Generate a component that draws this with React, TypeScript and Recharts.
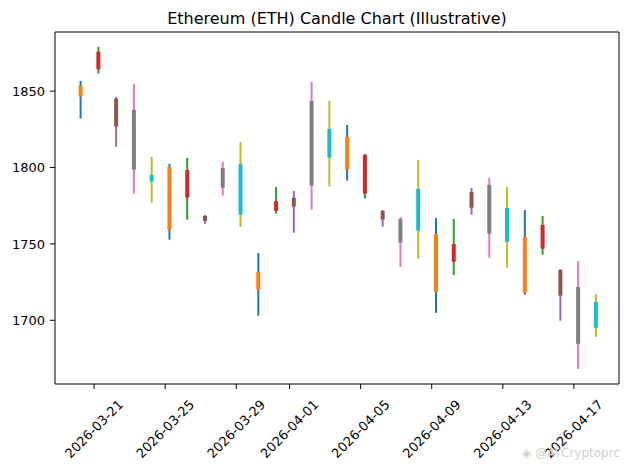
import React from 'react';
import { ComposedChart, Bar, Cell, XAxis, YAxis, ReferenceArea } from 'recharts';

// one candle per day, sampled at the same time of day (fraction of a day after midnight)
const candleTime = 0.234;
const startLabel = '2026-03-20';

const highs = [
  1856.7, 1879.0, 1846.3, 1854.8, 1807.0, 1802.4, 1806.3, 1768.9, 1803.7, 1816.8,
  1744.0, 1787.3, 1784.7, 1856.1, 1843.6, 1827.9, 1808.9, 1772.2, 1767.6, 1805.0,
  1766.9, 1766.3, 1786.6, 1793.2, 1787.3, 1772.2, 1768.3, 1733.5, 1738.8, 1717.2,
];
const lows = [
  1832.0, 1861.5, 1813.7, 1782.9, 1777.0, 1752.8, 1765.9, 1763.2, 1781.6, 1761.3,
  1703.0, 1769.8, 1757.3, 1772.4, 1787.5, 1791.4, 1779.6, 1761.3, 1735.1, 1740.3,
  1704.9, 1729.6, 1769.1, 1741.0, 1734.4, 1716.7, 1742.9, 1699.7, 1668.2, 1689.2,
];
const opens = [
  1846.5, 1875.8, 1845.0, 1837.7, 1790.8, 1800.4, 1798.4, 1768.3, 1786.8, 1769.1,
  1731.6, 1771.6, 1780.1, 1788.1, 1806.5, 1820.1, 1808.3, 1765.9, 1766.3, 1758.7,
  1756.5, 1749.9, 1773.7, 1788.6, 1773.5, 1754.5, 1762.4, 1732.9, 1721.8, 1695.1,
];
const closes = [
  1853.7, 1864.2, 1826.8, 1798.6, 1795.2, 1759.3, 1780.3, 1765.0, 1799.7, 1802.4,
  1720.0, 1778.1, 1774.4, 1843.6, 1825.3, 1798.6, 1782.9, 1771.6, 1750.8, 1786.0,
  1718.7, 1738.3, 1784.0, 1756.7, 1751.4, 1718.0, 1746.9, 1716.1, 1684.6, 1711.9,
];

// days after 2026-03-20
const tickDays = [1, 5, 9, 12, 16, 20, 24, 28];
const tickLabels = [
  '2026-03-21', '2026-03-25', '2026-03-29', '2026-04-01',
  '2026-04-05', '2026-04-09', '2026-04-13', '2026-04-17',
];
const yTicks = [1700, 1750, 1800, 1850];

const palette = [
  '#1f77b4', '#ff7f0e', '#2ca02c', '#d62728', '#9467bd',
  '#8c564b', '#e377c2', '#7f7f7f', '#bcbd22', '#17becf',
];

const xDomain: [number, number] = [-1.2, 30.54];
const yDomain: [number, number] = [1658.3, 1888.7];

const data = highs.map((h, i) => ({
  x: i + candleTime,
  wick: [lows[i], h],
  body: [Math.min(opens[i], closes[i]), Math.max(opens[i], closes[i])],
}));

const font = 'DejaVu Sans, sans-serif';

const DateTick = (props: any) => {
  const { x, y, payload } = props;
  const idx = tickDays.indexOf(payload.value);
  return (
    <g transform={`translate(${x},${y + 40})`}>
      <text
        transform="rotate(-45)"
        textAnchor="middle"
        dominantBaseline="central"
        fontSize={13}
        fontFamily={font}
        fill="#000"
      >
        {idx >= 0 ? tickLabels[idx] : startLabel}
      </text>
    </g>
  );
};

export default function App() {
  return (
    <div style={{ position: 'absolute', left: 0, top: 0, width: 630, height: 470, background: '#fff' }}>
      <ComposedChart
        width={630}
        height={470}
        data={data}
        margin={{ top: 32, right: 11, left: 8, bottom: 0 }}
      >
        <XAxis
          xAxisId="wick"
          dataKey="x"
          type="number"
          domain={xDomain}
          allowDataOverflow
          ticks={tickDays}
          interval={0}
          height={86}
          tickSize={5}
          tickMargin={0}
          axisLine={false}
          tickLine={{ stroke: '#000' }}
          tick={<DateTick />}
        />
        <XAxis
          xAxisId="body"
          dataKey="x"
          type="number"
          orientation="top"
          height={0}
          domain={xDomain}
          allowDataOverflow
          hide
        />
        <YAxis
          type="number"
          domain={yDomain}
          allowDataOverflow
          ticks={yTicks}
          width={47}
          tickSize={5}
          tickMargin={5}
          axisLine={false}
          tickLine={{ stroke: '#000' }}
          tick={{ fontSize: 13, fill: '#000', fontFamily: font }}
        />
        <Bar xAxisId="wick" dataKey="wick" barSize={2} isAnimationActive={false}>
          {data.map((_, i) => (
            <Cell key={i} fill={palette[(2 * i) % 10]} />
          ))}
        </Bar>
        <Bar xAxisId="body" dataKey="body" barSize={4} isAnimationActive={false}>
          {data.map((_, i) => (
            <Cell key={i} fill={palette[(2 * i + 1) % 10]} />
          ))}
        </Bar>
        <ReferenceArea
          xAxisId="wick"
          x1={xDomain[0]}
          x2={xDomain[1]}
          y1={yDomain[0]}
          y2={yDomain[1]}
          fill="none"
          stroke="#000"
          strokeWidth={1}
          ifOverflow="visible"
        />
      </ComposedChart>
      <svg
        width={630}
        height={470}
        style={{ position: 'absolute', left: 0, top: 0, pointerEvents: 'none' }}
      >
        <text x={337} y={24} textAnchor="middle" fontSize={16} fontFamily={font} fill="#000">
          Ethereum (ETH) Candle Chart (Illustrative)
        </text>
        <text x={522} y={457} fontSize={12} fontFamily={font} fill="#cfcfcf">
          ◈ @AYCryptoprc
        </text>
      </svg>
    </div>
  );
}
